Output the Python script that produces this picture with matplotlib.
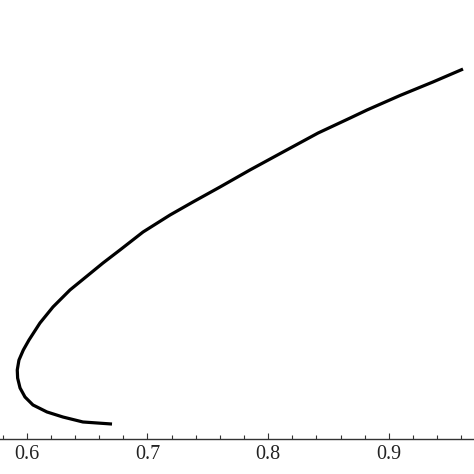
import numpy as np
import matplotlib.pyplot as plt
from matplotlib.ticker import MultipleLocator

# points (lower branch first, then upper branch)
x_vals = [0.6707, 0.6466, 0.6301, 0.6168, 0.6052, 0.5986, 0.5945, 0.5925,
          0.5922, 0.5936, 0.5972, 0.6019, 0.6110, 0.6218, 0.6359, 0.6500,
          0.6632, 0.6773, 0.6964, 0.7188, 0.7378, 0.7602, 0.7850, 0.8124,
          0.8414, 0.8679, 0.8820, 0.9093, 0.9366, 0.9615]
y_vals = [0.0124, 0.0141, 0.0182, 0.0224, 0.0282, 0.0348, 0.0423, 0.0505,
          0.0572, 0.0654, 0.0737, 0.0820, 0.0961, 0.1094, 0.1235, 0.1350,
          0.1458, 0.1566, 0.1715, 0.1856, 0.1964, 0.2088, 0.2229, 0.2378,
          0.2535, 0.2659, 0.2726, 0.2846, 0.2958, 0.3065]
x_ticks = [0.6, 0.7, 0.8, 0.9]

plt.rcParams['font.family'] = 'Liberation Serif'

fig = plt.figure(figsize=(4.74, 4.74), dpi=100)
ax = fig.add_axes([0, 35 / 474, 1, 1 - 35 / 474])

ax.plot(x_vals, y_vals, color='black', linewidth=2.3,
        solid_capstyle='butt', solid_joinstyle='round')

ax.set_xlim(0.5779, 0.9706)
ax.set_ylim(0, 439 / 1207)

for s in ['top', 'right', 'left']:
    ax.spines[s].set_visible(False)
ax.spines['bottom'].set_color('#333333')
ax.spines['bottom'].set_linewidth(1.0)

ax.set_xticks(x_ticks)
ax.set_xticklabels(['0.6', '0.7', '0.8', '0.9'])
ax.xaxis.set_minor_locator(MultipleLocator(0.02))
ax.tick_params(axis='x', which='major', direction='in', length=4.5,
               width=0.8, color='#333333', labelsize=14.5,
               labelcolor='#222222', pad=4)
ax.tick_params(axis='x', which='minor', direction='in', length=2.8,
               width=0.8, color='#333333')
ax.set_yticks([])

fig.savefig('out.png', dpi=100)
